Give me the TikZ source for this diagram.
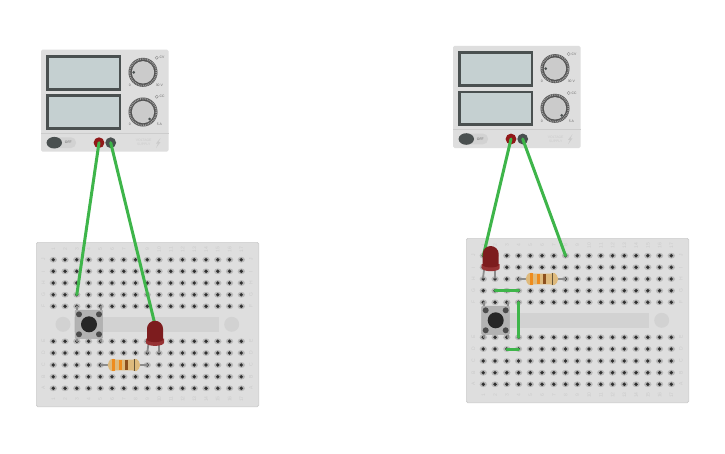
\documentclass[tikz,border=0pt]{standalone}
\usepackage{fontspec}
\setmainfont{Liberation Sans}
\definecolor{boardgrey}{RGB}{222,222,222}
\definecolor{boardedge}{RGB}{204,204,204}
\definecolor{channel}{RGB}{210,210,210}
\definecolor{faint}{RGB}{203,203,203}
\definecolor{hole}{RGB}{50,50,50}
\definecolor{halo}{RGB}{186,186,186}
\definecolor{screen}{RGB}{197,208,209}
\definecolor{screenedge}{RGB}{74,80,80}
\definecolor{knob}{RGB}{203,203,203}
\definecolor{wire}{RGB}{62,181,74}
\definecolor{ledred}{RGB}{125,28,30}
\definecolor{ledlow}{RGB}{150,50,52}
\definecolor{leadgrey}{RGB}{140,140,140}
\definecolor{tan}{RGB}{222,186,125}
\definecolor{bandorange}{RGB}{238,140,30}
\definecolor{bandbrown}{RGB}{140,80,30}
\tikzset{
  wirepath/.style={draw=wire,line width=3pt,line cap=round},
  leadpath/.style={draw=leadgrey,line width=1.8pt,line cap=round},
  tiny/.style={inner sep=0pt,font=\fontsize{3.4}{3.8}\selectfont,text=#1},
  tiny/.default=black!60,
  boardtext/.style={inner sep=0pt,rotate=90,font=\fontsize{5}{5}\selectfont,text=faint}
}
\newcommand{\drawknob}[2]{
    \fill[black!68] (#1,#2) circle (14.5);
    \draw[black!38,line width=1.6pt,dash pattern=on .9pt off .9pt] (#1,#2) circle (13.3);
    \fill[knob] (#1,#2) circle (11.2);
}
\newcommand{\drawsupply}[3]{
  \begin{scope}[shift={(#2,#3)}]
    \fill[boardgrey,rounded corners=1.5pt] (41,49.5) rectangle (168.5,151.7);
    \draw[boardedge,line width=.6pt] (41,133)--(168.5,133);
    \draw[screenedge,fill=screen,line width=2.8pt] (47.4,56.4) rectangle (120,89.2);
    \draw[screenedge,fill=screen,line width=2.8pt] (47.4,95.7) rectangle (120,128.2);
    \drawknob{143}{72.3}
    \drawknob{143}{112}
    \fill[screenedge] (133.7,72.3) circle (1.5);
    \fill[screenedge] (149.7,119) circle (1.5);
    \draw[leadgrey,line width=.4pt] (156.7,57.7) circle (1.6);
    \draw[leadgrey,line width=.4pt] (156.7,96.7) circle (1.6);
    \node[tiny] (#1cv) at (162,57.7) {CV};
    \node[tiny] (#1cc) at (162,96.7) {CC};
    \node[tiny] (#1vlow) at (129.7,85.3) {0};
    \node[tiny] (#1vhigh) at (159.3,85.3) {30 V};
    \node[tiny] (#1alow) at (129.7,124.7) {0};
    \node[tiny] (#1ahigh) at (159.3,124.7) {5 A};
    \fill[channel,rounded corners=5pt] (46.7,137.3) rectangle (76,148);
    \fill[screenedge] (54.3,142.7) ellipse (7.7 and 5.8);
    \node[tiny] (#1off) at (68.3,142.7) {OFF};
    \fill[ledred!85!red] (99,142.7) circle (5.4);
    \fill[screenedge] (110.7,142.7) circle (5.4);
    \node[tiny=faint,align=center] (#1label) at (143.7,142.7) {VOLTAGE\\SUPPLY};
    \fill[faint] (160.5,138)--(156,143.5)--(158,143.5)--(156,148)--(160.5,142)--(158.5,142)--cycle;
    \coordinate (#1plus) at (99,142.7);
    \coordinate (#1minus) at (110.7,142.7);
  \end{scope}
}
\newcommand{\drawboard}[3]{
  \begin{scope}[shift={(#2,#3)}]
    \draw[boardedge,fill=boardgrey,line width=.6pt,rounded corners=1.5pt] (36.3,242.3) rectangle (258.7,406.7);
    \fill[channel] (74,317) rectangle (218.5,332);
    \fill[channel] (63,324.3) circle (7.5);
    \fill[channel] (231.7,324.3) circle (7.5);
    \foreach \r/\ry in {J/259.7,I/271.3,H/283,G/294.7,F/306.3,E/341.3,D/353,C/365,B/376.7,A/388.3}{
      \node[boardtext] (#1l\r) at (43.5,\ry) {\r};
      \node[boardtext] (#1e\r) at (251,\ry) {\r};
      \foreach \c in {1,...,17}{
        \fill[halo] ({53.3+11.75*(\c-1)},\ry) ellipse (3.7 and 2.9);
        \fill[hole] ({53.3+11.75*(\c-1)},\ry) circle (1.9);
        \coordinate (#1\r\c) at ({53.3+11.75*(\c-1)},\ry);
      }
    }
    \foreach \c in {1,...,17}{
      \node[boardtext] (#1t\c) at ({53.3+11.75*(\c-1)},249.5) {\c};
      \node[boardtext] (#1b\c) at ({53.3+11.75*(\c-1)},399) {\c};
    }
  \end{scope}
}
% pushbutton, by its centre
\newcommand{\drawbutton}[2]{
  \begin{scope}[shift={(#1,#2)}]
    \foreach \x in {-11.9,11.9}{
      \draw[leadpath] (\x,-18)--(\x,-14);
      \draw[leadpath] (\x,14)--(\x,17);
    }
    \draw[leadgrey!70,fill=black!30,line width=.5pt,rounded corners=1pt] (-14,-14.3) rectangle (13.7,14.3);
    \foreach \x in {-10,10}{
      \foreach \y in {-10,10}{
        \fill[black!70] (\x,\y) circle (3);
      }
    }
    \fill[black!85] (0,0) circle (8);
  \end{scope}
}
% led, by the top of its dome
\newcommand{\drawled}[2]{
  \begin{scope}[shift={(#1,#2)}]
    \draw[leadpath] (-6.7,24)--(-7.7,32);
    \draw[leadpath] (4,24)--(4,32);
    \fill[ledlow] (-9,18) rectangle (9,22) arc[start angle=0,end angle=-180,x radius=9,y radius=-3.2]--cycle;
    \fill[ledred] (-8,18) -- (-8,8) arc[start angle=180,end angle=0,x radius=8,y radius=-8] -- (8,19) arc[start angle=0,end angle=-180,x radius=8,y radius=-2.4] -- cycle;
  \end{scope}
}
% resistor, from its left lead to its right lead
\newcommand{\drawresistor}[2]{
  \begin{scope}[shift={(#1,#2)}]
    \draw[leadpath] (0,0)--(47,0);
    \fill[tan] (7,0) .. controls (8,-6.5) and (12,-7) .. (15,-5.4) -- (32,-5.4) .. controls (35,-7) and (38,-6.5) .. (39.5,0) .. controls (38,6.5) and (35,7) .. (32,5.4) -- (15,5.4) .. controls (12,7) and (8,6.5) .. (7,0) -- cycle;
    \fill[bandorange] (11.5,-6) rectangle (14.5,6);
    \fill[bandorange] (18,-5.4) rectangle (21.2,5.4);
    \fill[bandbrown] (24,-5.4) rectangle (27.4,5.4);
    \fill[black!55!tan] (33.3,-5.6) rectangle (34.4,5.6);
  \end{scope}
}

\begin{document}
\begin{tikzpicture}[x=1pt,y=-1pt]
\useasboundingbox (0,0) rectangle (725,453);
\fill[white] (0,0) rectangle (725,453);
\drawsupply{sl}{0}{0}
\drawsupply{sr}{412}{-3.7}
\drawboard{bl}{0}{0}
\drawboard{br}{430}{-4}
% left circuit
\draw[wirepath] (slplus)--(blG3);
\draw[wirepath] (slminus)--(blE10);
\drawbutton{89}{324.3}
\drawled{155}{320.7}
\drawresistor{100.7}{365}
% right circuit
\draw[wirepath] (srplus)--(brJ1);
\draw[wirepath] (srminus)--(brJ8);
\draw[wirepath] (brG2)--(brG4);
\draw[wirepath] (brF4)--(brE4);
\draw[wirepath] (brD3)--(brD4);
\drawbutton{495.7}{320.3}
\drawled{490.7}{246}
\drawresistor{518.7}{279}
\end{tikzpicture}
\end{document}
